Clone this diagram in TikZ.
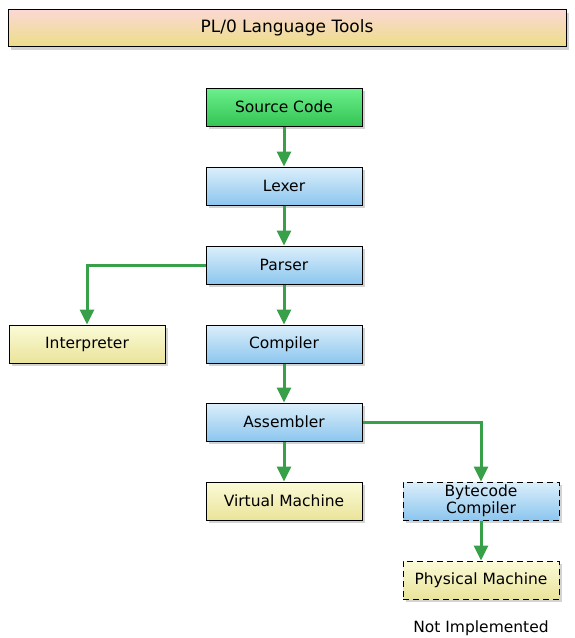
\documentclass[tikz,border=0pt]{standalone}
\usepackage{fontspec}
\setmainfont{DejaVu Sans}
\usetikzlibrary{arrows.meta, shadows}
\definecolor{greentop}{HTML}{6CF08C}
\definecolor{greenbot}{HTML}{34C454}
\definecolor{bluetop}{HTML}{DCEFFB}
\definecolor{bluebot}{HTML}{8CC6EE}
\definecolor{yellowtop}{HTML}{FBFBD8}
\definecolor{yellowbot}{HTML}{EAE49A}
\definecolor{titletop}{HTML}{FCD8D4}
\definecolor{titlebot}{HTML}{ECDE88}
\definecolor{arrowgreen}{HTML}{38A048}
\tikzset{
    box/.style={rectangle, draw=black, line width=1pt, minimum width=156pt, minimum height=38pt, inner sep=2pt, align=center, font=\fontsize{15.5}{17}\selectfont, drop shadow={opacity=0.35, shadow xshift=3pt, shadow yshift=-3pt}},
    source/.style={box, top color=greentop, bottom color=greenbot},
    stage/.style={box, top color=bluetop, bottom color=bluebot},
    target/.style={box, top color=yellowtop, bottom color=yellowbot},
    planned/.style={dashed, dash pattern=on 6pt off 4pt},
    banner/.style={box, minimum width=558pt, minimum height=37pt, top color=titletop, bottom color=titlebot, font=\fontsize{17}{19}\selectfont},
    flow/.style={-{Triangle[length=15pt, width=14pt]}, line width=3pt, draw=arrowgreen}
}
\begin{document}
\begin{tikzpicture}[x=1pt, y=-1pt]
            \useasboundingbox (0,0) rectangle (575,638);
            % Title
            \node[banner] (title) at (287, 28) {PL/0 Language Tools};
            
            % Main pipeline
            \node[source] (src) at (284, 107) {Source Code};
            \node[stage] (lex) at (284, 186) {Lexer};
            \node[stage] (parse) at (284, 265) {Parser};
            \node[stage] (comp) at (284, 344) {Compiler};
            \node[stage] (asm) at (284, 422) {Assembler};
            \node[target] (vm) at (284, 501) {Virtual Machine};
            
            % Side branches
            \node[target] (interp) at (87, 344) {Interpreter};
            \node[stage, planned] (bcc) at (481, 501) {Bytecode\\[0pt]Compiler};
            \node[target, planned] (phys) at (481, 580) {Physical Machine};
            \node[font=\fontsize{15.5}{17}\selectfont] (note) at (481, 628) {Not Implemented};
            
            % Flow arrows
            \draw[flow] (src) -- (lex);
            \draw[flow] (lex) -- (parse);
            \draw[flow] (parse) -- (comp);
            \draw[flow] (comp) -- (asm);
            \draw[flow] (asm) -- (vm);
            \draw[flow] (parse.west) -| (interp.north);
            \draw[flow] (asm.east) -| (bcc.north);
            \draw[flow] (bcc) -- (phys);
        \end{tikzpicture}
\end{document}
